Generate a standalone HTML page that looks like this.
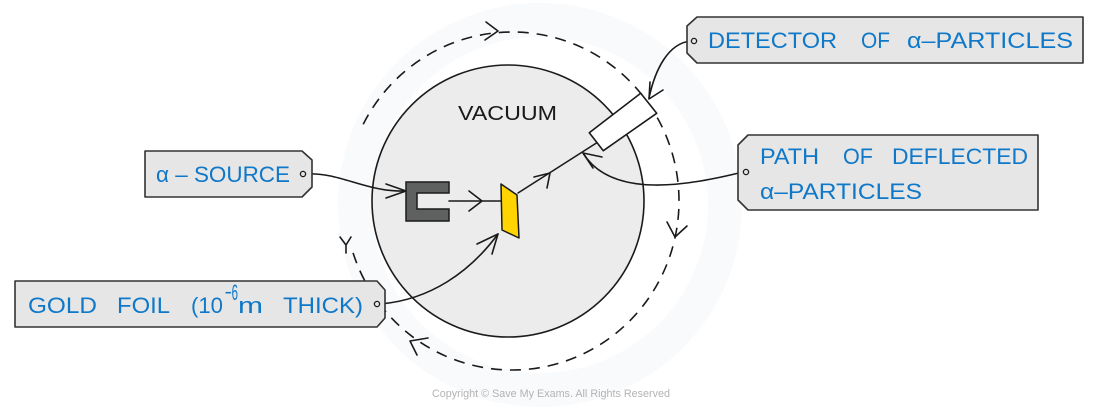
<!DOCTYPE html>
<html><head><meta charset="utf-8"><style>
html,body{margin:0;padding:0;background:#fff;}
svg{display:block;}
.t{font-family:"Liberation Sans","DejaVu Sans",sans-serif;fill:#0f78c8;font-size:22px;}
</style></head><body>
<svg width="1100" height="411" viewBox="0 0 1100 411" xmlns="http://www.w3.org/2000/svg">
<!-- faint watermark -->
<circle cx="540" cy="205" r="185" fill="none" stroke="#f8fafc" stroke-width="34"/>
<!-- main vacuum circle -->
<ellipse cx="508" cy="201" rx="136" ry="136" fill="#ececec" stroke="#1a1a1a" stroke-width="1.6"/>
<!-- dashed orbit -->
<path d="M363.2,124.3 A167,169 0 1 1 352.3,250.4" fill="none" stroke="#1a1a1a" stroke-width="1.6" stroke-dasharray="11 8"/>
<g fill="none" stroke="#1a1a1a" stroke-width="1.6" stroke-linecap="round" stroke-linejoin="round">
<!-- orbit arrowheads -->
<path d="M486,22 L498,31 L485,40"/>
<path d="M667,222 L675,237 L687,226"/>
<path d="M428,338 L410,341 L417,355"/>
<path d="M340,237 L346,245 L351,237 M346,245 L346,253"/>
<!-- source to foil -->
<line x1="449" y1="201" x2="501" y2="201"/>
<path d="M469,191 L482,201 L469,211"/>
<!-- deflected path -->
<line x1="518" y1="193" x2="598" y2="142"/>
<path d="M534,177 L550,173 L547,188"/>
<!-- alpha source connector -->
<path d="M306,174 C340,172 365,192 405,191"/>
<path d="M386,184 L406,191 L386,198"/>
<!-- gold foil connector -->
<path d="M380,304 C430,300 470,272 498,234"/>
<path d="M477,244 L498,234 L492,254"/>
<!-- detector connector -->
<path d="M691,41 C668,43 655,70 649,98"/>
<path d="M650,82 L649,99 L663,90"/>
<!-- path connector -->
<path d="M743,172 C690,185 612,200 583,153"/>
<path d="M602,157 L583,153 L593,168"/>
</g>
<!-- source E shape -->
<path d="M406,182 L449,182 L449,193 L417,193 L417,209 L449,209 L449,221 L406,221 Z" fill="#5f6161" stroke="#1a1a1a" stroke-width="1.5"/>
<!-- gold foil -->
<path d="M501,184 L517,195 L519,238 L502,230 Z" fill="#ffd400" stroke="#1a1a1a" stroke-width="1.5" stroke-linejoin="round"/>
<!-- detector -->
<path d="M589.3,132.7 L640.7,93.3 L656.7,113.3 L603.3,150.7 Z" fill="#fff" stroke="#1a1a1a" stroke-width="1.6" stroke-linejoin="round"/>
<!-- VACUUM -->
<text x="458" y="120" font-family="Liberation Sans, sans-serif" font-size="20" fill="#1a1a1a" textLength="99" lengthAdjust="spacingAndGlyphs">VACUUM</text>
<!-- label boxes -->
<g fill="#e6e6e6" stroke="#333" stroke-width="1.6" stroke-linejoin="round">
<path d="M145,151 L302,151 L312,160 L312,187 L302,197 L145,197 Z"/>
<path d="M15,281 L377,281 L385,290 L385,318 L377,327 L15,327 Z"/>
<path d="M697,17 L1083,17 L1083,63 L697,63 L687,53 L687,26 Z"/>
<path d="M748,135 L1038,135 L1038,210 L748,210 L738,200 L738,145 Z"/>
</g>
<g fill="#e6e6e6" stroke="#1a1a1a" stroke-width="1.3">
<circle cx="303" cy="174" r="2.6"/>
<circle cx="377" cy="304" r="2.6"/>
<circle cx="694" cy="41" r="2.6"/>
<circle cx="746" cy="172" r="2.6"/>
</g>
<!-- label texts -->
<text class="t" x="156" y="182" textLength="134" lengthAdjust="spacingAndGlyphs">α – SOURCE</text>

<text class="t" x="28" y="313" textLength="69" lengthAdjust="spacingAndGlyphs">GOLD</text>
<text class="t" x="117" y="313" textLength="53" lengthAdjust="spacingAndGlyphs">FOIL</text>
<text class="t" x="191" y="313" textLength="32" lengthAdjust="spacingAndGlyphs">(10</text>
<text class="t" x="225" y="300" font-size="14" textLength="13" lengthAdjust="spacingAndGlyphs">−6</text>
<text class="t" x="238" y="313" textLength="25" lengthAdjust="spacingAndGlyphs">m</text>
<text class="t" x="283" y="313" textLength="80" lengthAdjust="spacingAndGlyphs">THICK)</text>

<text class="t" x="708" y="48" textLength="129" lengthAdjust="spacingAndGlyphs">DETECTOR</text>
<text class="t" x="861" y="48" textLength="29" lengthAdjust="spacingAndGlyphs">OF</text>
<text class="t" x="907" y="48" textLength="166" lengthAdjust="spacingAndGlyphs">α–PARTICLES</text>

<text class="t" x="760" y="164" textLength="59" lengthAdjust="spacingAndGlyphs">PATH</text>
<text class="t" x="843" y="164" textLength="30" lengthAdjust="spacingAndGlyphs">OF</text>
<text class="t" x="892" y="164" textLength="136" lengthAdjust="spacingAndGlyphs">DEFLECTED</text>
<text class="t" x="760" y="199" textLength="162" lengthAdjust="spacingAndGlyphs">α–PARTICLES</text>

<!-- copyright -->
<text x="432" y="397" font-family="Liberation Sans, sans-serif" font-size="11" fill="#b3b3b3" textLength="238" lengthAdjust="spacingAndGlyphs">Copyright © Save My Exams. All Rights Reserved</text>
</svg>
</body></html>
